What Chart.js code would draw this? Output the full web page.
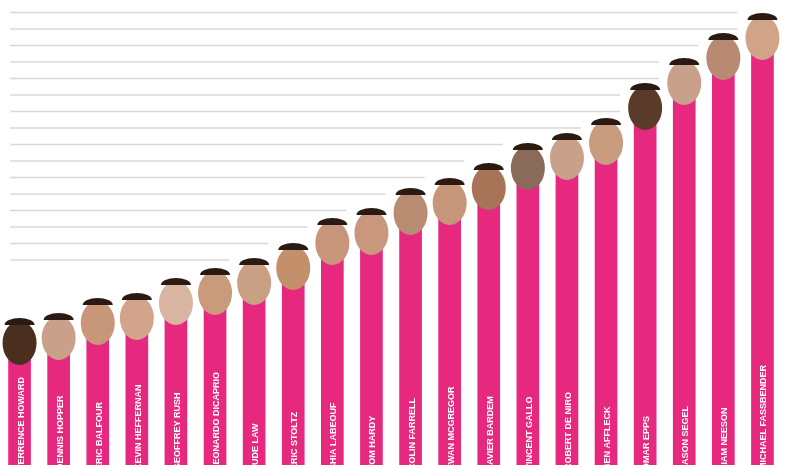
<!DOCTYPE html>
<html><head><meta charset="utf-8">
<script src="https://cdn.jsdelivr.net/npm/chart.js@4"></script>
<style>html,body{margin:0;background:#fff}#w{width:792px;height:465px}</style>
</head><body><div id="w"><canvas id="c"></canvas></div>
<script>
const names=["TERRENCE HOWARD","DENNIS HOPPER","ERIC BALFOUR","KEVIN HEFFERNAN","GEOFFREY RUSH","LEONARDO DICAPRIO","JUDE LAW","ERIC STOLTZ","SHIA LABEOUF","TOM HARDY","COLIN FARRELL","EWAN MCGREGOR","JAVIER BARDEM","VINCENT GALLO","ROBERT DE NIRO","BEN AFFLECK","OMAR EPPS","JASON SEGEL","LIAM NEESON","MICHAEL FASSBENDER"];
const values=[120,125,140,145,160,170,180,195,220,230,250,260,275,295,305,320,355,380,405,425];
const faceColors=["#4a2e1e","#c9a08a","#c8977a","#d2a48c","#d7b5a0","#c99a7c","#caa084","#c4906c","#c8957a","#c9987c","#b88c70","#c6967a","#a87458","#8a6a58","#c9a08a","#c99c80","#5a3a28","#c9a08a","#b88a72","#d1a48a"];
const labelPlugin={id:'lbl',afterDatasetsDraw(ch){
  const ctx=ch.ctx,meta=ch.getDatasetMeta(0);
  meta.data.forEach((b,i)=>{
    ctx.save();ctx.fillStyle=faceColors[i];ctx.beginPath();ctx.ellipse(b.x,b.y-2,17,22,0,0,Math.PI*2);ctx.fill();
    ctx.fillStyle='#2a1a12';ctx.beginPath();ctx.ellipse(b.x,b.y-20,15,7,0,Math.PI,0);ctx.fill();ctx.restore();
    ctx.save();ctx.translate(b.x+4,470);ctx.rotate(-Math.PI/2);
    ctx.fillStyle='#fff';ctx.font='bold 9px "Liberation Sans", Arial';ctx.textAlign='left';
    ctx.fillText(names[i],0,0);ctx.restore();
  });
}};
const bg={id:'bg',beforeDatasetsDraw(ch){
  const ctx=ch.ctx,y=ch.scales.y,x=ch.scales.x;
  ctx.save();ctx.strokeStyle='#d8d8d8';ctx.lineWidth=1.5;
  for(let v=205;v<=460;v+=16.5){
    const yy=y.getPixelForValue(v);
    let idx=values.findIndex(q=>q+30>=v);
    let end=idx<0?ch.width-10:x.getPixelForValue(idx)-25;
    ctx.beginPath();ctx.moveTo(10,yy);ctx.lineTo(end,yy);ctx.stroke();
  }
  ctx.restore();
}};
new Chart(document.getElementById('c'),{type:'bar',
 data:{labels:names,datasets:[{data:values,backgroundColor:'#e6287f',barPercentage:0.58,categoryPercentage:1}]},
 options:{responsive:true,maintainAspectRatio:false,animation:false,
  layout:{padding:{left:0,right:10,top:0,bottom:0}},
  plugins:{legend:{display:false},tooltip:{enabled:false}},
  scales:{x:{display:false},y:{display:false,min:0,max:465}}},
 plugins:[bg,labelPlugin]});
</script></body></html>
